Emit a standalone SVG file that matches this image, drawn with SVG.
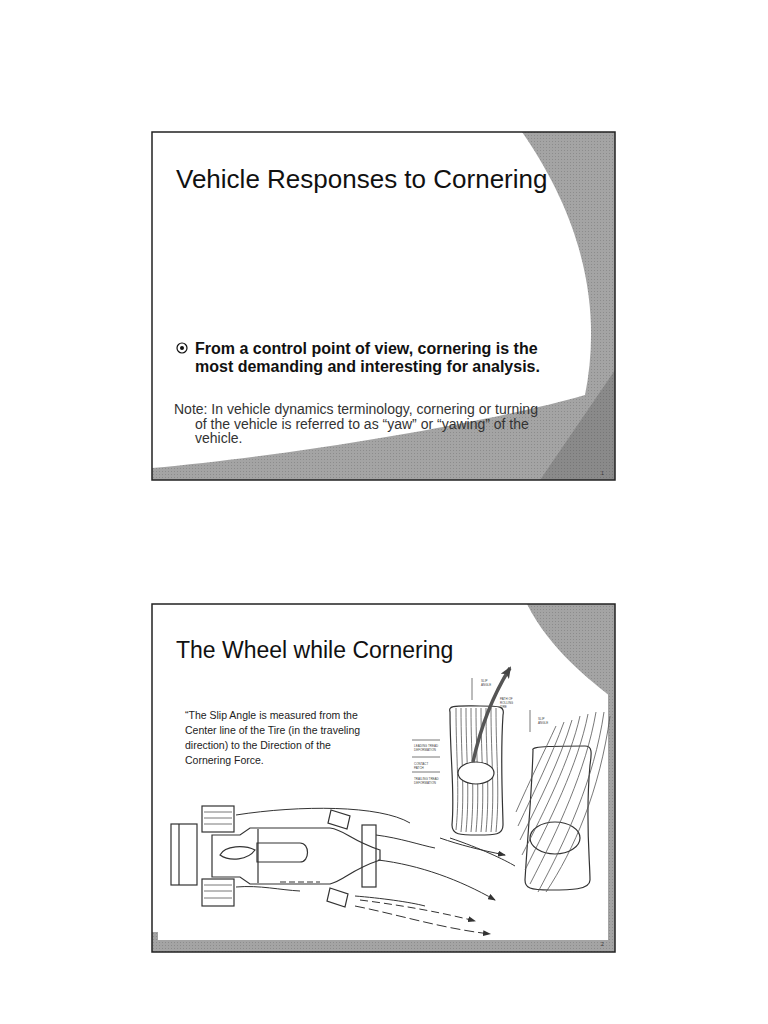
<svg xmlns="http://www.w3.org/2000/svg" width="768" height="1024" viewBox="0 0 768 1024">
<style>
.t{font-family:"Liberation Sans",Arial,sans-serif}
.ln{fill:none;stroke:#333;stroke-width:1.2}
.lg{fill:none;stroke:#555;stroke-width:0.8}
.tiny{font-family:"Liberation Sans",Arial,sans-serif;font-size:3px;fill:#444}
</style>
<defs>
<pattern id="g" width="3" height="3" patternUnits="userSpaceOnUse"><rect width="3" height="3" fill="#a4a4a4"/><rect width="1" height="1" fill="#8c8c8c"/></pattern>
<pattern id="d" width="3" height="3" patternUnits="userSpaceOnUse"><rect width="3" height="3" fill="#8a8a8a"/><rect width="1" height="1" fill="#777"/></pattern>
<marker id="a" markerUnits="userSpaceOnUse" markerWidth="8" markerHeight="6" refX="7" refY="3" orient="auto"><path d="M0,0 L8,3 L0,6 z" fill="#333"/></marker>
<marker id="b" markerUnits="userSpaceOnUse" markerWidth="12" markerHeight="10" refX="10" refY="5" orient="auto"><path d="M0,0 L12,5 L0,10 L3,5 z" fill="#444"/></marker>
<clipPath id="c1"><rect x="152" y="132" width="463" height="348"/></clipPath>
<clipPath id="c2"><rect x="152" y="604" width="463" height="348"/></clipPath>
</defs>
<rect width="768" height="1024" fill="#fff"/>
<g id="slide1">
<g clip-path="url(#c1)">
<rect x="152" y="132" width="463" height="348" fill="url(#g)"/>
<path d="M152,132 H522 C590,230 600,320 585,395 C500,420 300,455 152,468 Z" fill="#fff"/>
<path d="M615,370 L540,480 H615 Z" fill="url(#d)"/>
</g>
<rect x="152" y="132" width="463" height="348" fill="none" stroke="#222" stroke-width="1.5"/>
<text class="t" x="176" y="188" font-size="26" fill="#111">Vehicle Responses to Cornering</text>
<circle cx="182" cy="348" r="5" fill="none" stroke="#111" stroke-width="1.2"/><circle cx="182" cy="348" r="2" fill="#111"/>
<text class="t" x="195" y="354" font-size="16" font-weight="bold" fill="#111">From a control point of view, cornering is the</text>
<text class="t" x="195" y="372" font-size="16" font-weight="bold" fill="#111">most demanding and interesting for analysis.</text>
<text class="t" x="174" y="414" font-size="14" fill="#333">Note: In vehicle dynamics terminology, cornering or turning</text>
<text class="t" x="195" y="429" font-size="14" fill="#333">of the vehicle is referred to as “yaw” or “yawing” of the</text>
<text class="t" x="195" y="443" font-size="14" fill="#333">vehicle.</text>
<text class="t" x="601" y="475" font-size="5" fill="#333">1</text>
</g>
<g id="slide2">
<g clip-path="url(#c2)">
<path d="M527,604 H615 V700 C590,680 550,650 527,604 Z" fill="url(#g)"/>
<rect x="608" y="690" width="7" height="262" fill="url(#g)"/>
<rect x="152" y="940" width="463" height="12" fill="url(#g)"/>
<rect x="152" y="932" width="6" height="10" fill="url(#g)"/>
</g>
<rect x="152" y="604" width="463" height="348" fill="none" stroke="#222" stroke-width="1.5"/>
<text class="t" x="176" y="658" font-size="23" fill="#111">The Wheel while Cornering</text>
<g class="t" font-size="10.5" fill="#222">
<text x="185" y="719">“The Slip Angle is measured from the</text>
<text x="185" y="734">Center line of the Tire (in the traveling</text>
<text x="185" y="749">direction) to the Direction of the</text>
<text x="185" y="764">Cornering Force.</text>
</g>
<text class="t" x="601" y="946" font-size="5" fill="#333">2</text>
</g>
<g id="tire1">
<path class="ln" d="M450,712 C448,705 455,706 480,706 C500,706 505,706 503,715 C500,760 503,810 503,825 C503,835 495,835 478,835 C460,835 452,835 452,825 C455,790 450,760 450,712 Z"/>
<g class="lg">
<path d="M456,708 C456,760 460,790 456,830"/><path d="M461,708 C461,760 465,790 461,832"/><path d="M466,708 C466,760 470,790 466,832"/><path d="M471,708 C471,760 475,790 471,832"/><path d="M476,708 C476,760 480,790 476,832"/><path d="M481,708 C481,760 485,790 481,832"/><path d="M486,708 C486,760 490,790 486,832"/><path d="M491,708 C491,760 495,790 491,832"/><path d="M496,708 C496,760 500,790 496,832"/>
</g>
<ellipse cx="476" cy="773" rx="18" ry="11" fill="#fff" stroke="#333" stroke-width="1.2"/>
<path d="M473,762 C480,730 490,700 510,668" fill="none" stroke="#555" stroke-width="3.5" marker-end="url(#b)"/>
<path class="lg" d="M472,678 V700"/>
<text class="tiny" x="481" y="682">SLIP</text><text class="tiny" x="481" y="686">ANGLE</text>
<text class="tiny" x="500" y="700">PATH OF</text><text class="tiny" x="500" y="704">ROLLING</text><text class="tiny" x="500" y="708">TIRE</text>
<path class="lg" d="M412,740 H440 M412,757 H440 M412,772 H440"/>
<text class="tiny" x="414" y="747">LEADING TREAD</text><text class="tiny" x="414" y="751">DEFORMATION</text>
<text class="tiny" x="414" y="765">CONTACT</text><text class="tiny" x="414" y="769">PATCH</text>
<text class="tiny" x="414" y="780">TRAILING TREAD</text><text class="tiny" x="414" y="784">DEFORMATION</text>
</g>
<g id="tire2">
<path class="lg" d="M530,710 V732"/>
<text class="tiny" x="538" y="720">SLIP</text><text class="tiny" x="538" y="724">ANGLE</text>
<path class="ln" d="M533,750 C530,746 560,746 585,746 C592,746 592,752 590,765 C585,820 590,860 590,880 C590,890 570,890 550,890 C530,890 525,888 525,880 C528,830 532,790 533,750 Z"/>
<ellipse cx="555" cy="838" rx="25" ry="16" fill="#fff" stroke="#333" stroke-width="1.2"/>
<g class="lg">
<path d="M520,840 C540,800 560,760 572,720"/><path d="M522,855 C545,810 570,760 580,716"/><path d="M525,870 C550,820 578,765 588,714"/><path d="M530,884 C558,830 586,770 596,712"/><path d="M538,892 C566,840 594,780 604,712"/><path d="M546,892 C574,850 600,790 610,716"/><path d="M518,826 C535,790 552,755 564,722"/><path d="M516,812 C530,780 545,750 556,726"/>
</g>
</g>
<g id="car" class="ln">
<rect x="171" y="824" width="26" height="61"/><path d="M179,824 V885"/>
<rect x="202" y="806" width="32" height="26"/><rect x="202" y="879" width="32" height="27"/>
<path class="lg" d="M204,812 H232 M204,818 H232 M204,824 H232 M204,885 H232 M204,891 H232 M204,898 H232"/>
<path d="M212,835 H240 L250,828 H330 C345,830 350,840 380,850 L380,860 C350,870 345,880 330,884 H250 L240,877 H212 Z"/>
<path d="M257,843 H300 C310,843 310,862 300,862 H257 Z"/>
<path d="M220,855 C225,845 245,845 255,850 C248,860 230,862 220,855 Z"/>
<path d="M258,829 V883"/>
<rect x="362" y="825" width="14" height="62"/>
<path d="M331,810 L350,816 L347,829 L328,823 Z"/><path d="M330,888 L348,894 L345,907 L327,901 Z"/>
</g>
<g id="connectors" fill="none" stroke="#333" stroke-width="1">
<path d="M236,815 C300,805 380,805 410,823"/>
<path d="M376,835 C400,838 420,845 435,848"/>
<path d="M378,860 C420,865 460,880 495,900" marker-end="url(#a)"/>
<path d="M440,838 C460,845 480,850 505,855" marker-end="url(#a)"/>
<path d="M450,838 C480,848 505,860 515,866"/>
<path d="M236,887 C260,885 280,890 300,891"/>
<path d="M360,900 C400,905 440,912 475,921" stroke-dasharray="8,4" marker-end="url(#a)"/>
<path d="M355,906 C400,915 440,928 490,934" stroke-dasharray="10,4" marker-end="url(#a)"/>
<path d="M355,896 C380,898 410,902 425,906"/>
<path d="M280,882 H320" stroke-dasharray="6,3"/>
</g>
</svg>
